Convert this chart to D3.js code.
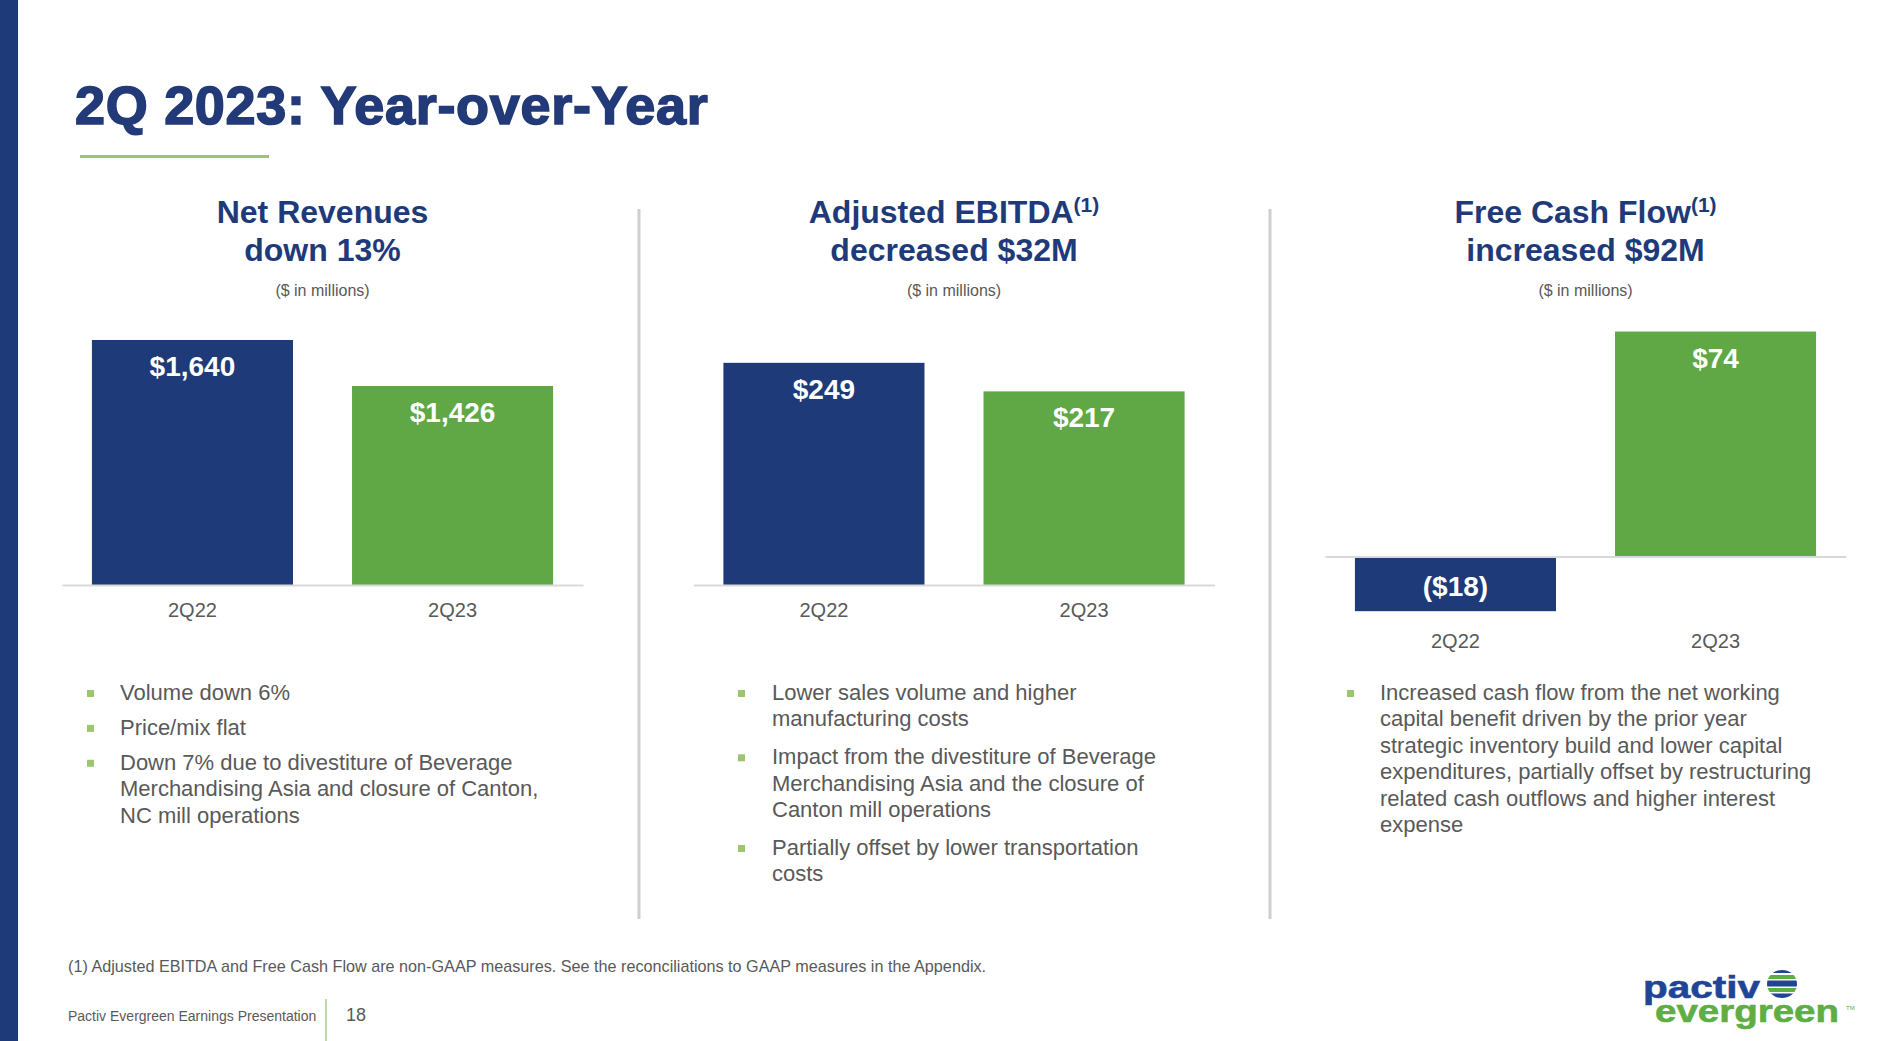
<!DOCTYPE html>
<html><head><meta charset="utf-8">
<script src="https://cdn.jsdelivr.net/npm/d3@7"></script>
<style>
html,body{margin:0;padding:0;background:#fff;}
svg{display:block;font-family:"Liberation Sans",Arial,Helvetica,sans-serif;}
</style>
</head><body>
<script>
// ---------- DATA ----------
const slideTitle = "2Q 2023: Year-over-Year";
const categories = ["2Q22", "2Q23"];
const netRevenues = [1640, 1426];
const adjustedEbitda = [249, 217];
const freeCashFlow = [-18, 74];
const panelTitleLines = [
  ["Net Revenues", "down 13%"],
  ["Adjusted EBITDA", "decreased $32M"],
  ["Free Cash Flow", "increased $92M"]
];
const panelTitleNotes = ["", "(1)", "(1)"];
const unitNote = "($ in millions)";
const bulletsNetRevenues = [
  ["Volume down 6%"],
  ["Price/mix flat"],
  ["Down 7% due to divestiture of Beverage", "Merchandising Asia and closure of Canton,", "NC mill operations"]
];
const bulletsEbitda = [
  ["Lower sales volume and higher", "manufacturing costs"],
  ["Impact from the divestiture of Beverage", "Merchandising Asia and the closure of", "Canton mill operations"],
  ["Partially offset by lower transportation", "costs"]
];
const bulletsCashFlow = [
  ["Increased cash flow from the net working", "capital benefit driven by the prior year",
   "strategic inventory build and lower capital", "expenditures, partially offset by restructuring",
   "related cash outflows and higher interest", "expense"]
];
const footnote = "(1) Adjusted EBITDA and Free Cash Flow are non-GAAP measures. See the reconciliations to GAAP measures in the Appendix.";
const footerLabel = "Pactiv Evergreen Earnings Presentation";
const pageNumber = "18";

// ---------- STYLE / LAYOUT ----------
const W = 1877, H = 1041;
const NAVY = "#1e3a78", GREEN = "#5fa845", LIGHTGREEN = "#9cc56f", GRAY = "#595959";
const barColors = [NAVY, GREEN];
const panels = [
  {values: netRevenues, center: 322.5, domain: [500, 1733], range: [585, 320], labelOff: 32, bullets: bulletsNetRevenues, markX: 87, textX: 120, gap: 8.5},
  {values: adjustedEbitda, center: 954, domain: [0, 297], range: [585, 320], labelOff: 32, bullets: bulletsEbitda, markX: 738, textX: 772, gap: 11.5},
  {values: freeCashFlow, center: 1585.5, domain: [-20.9, 77.8], range: [620, 320], labelOff: 37, bullets: bulletsCashFlow, markX: 1347, textX: 1380, gap: 10}
];
const fmt = v => v < 0 ? "($" + d3.format(",")(-v) + ")" : "$" + d3.format(",")(v);

const svg = d3.select("body").append("svg").attr("width", W).attr("height", H);
svg.append("rect").attr("width", W).attr("height", H).attr("fill", "#fff");

// left navy band
svg.append("rect").attr("x", 0).attr("y", 0).attr("width", 18).attr("height", H).attr("fill", NAVY);

// slide title
svg.append("text").attr("x", 75).attr("y", 124).attr("font-size", 54).attr("font-weight", 700)
  .attr("letter-spacing", 0.7)
  .attr("fill", "#233a79").attr("stroke", "#233a79").attr("stroke-width", 1.6)
  .text(slideTitle);
svg.append("rect").attr("x", 80).attr("y", 155).attr("width", 189).attr("height", 3).attr("fill", LIGHTGREEN);

// dividers
[639, 1270].forEach(x => svg.append("line").attr("x1", x).attr("x2", x).attr("y1", 209).attr("y2", 919)
  .attr("stroke", "#cfcfcf").attr("stroke-width", 3));

panels.forEach((p, i) => {
  const g = svg.append("g");
  // titles
  const t1 = g.append("text").attr("x", p.center).attr("y", 223).attr("text-anchor", "middle")
    .attr("font-size", 32).attr("font-weight", 700).attr("fill", NAVY);
  t1.append("tspan").text(panelTitleLines[i][0]);
  if (panelTitleNotes[i]) t1.append("tspan").attr("font-size", 21).attr("dy", -11).text(panelTitleNotes[i]);
  g.append("text").attr("x", p.center).attr("y", 261).attr("text-anchor", "middle")
    .attr("font-size", 32).attr("font-weight", 700).attr("fill", NAVY).text(panelTitleLines[i][1]);
  g.append("text").attr("x", p.center).attr("y", 296).attr("text-anchor", "middle")
    .attr("font-size", 16).attr("fill", GRAY).text(unitNote);

  // scales
  const x = d3.scaleBand().domain(categories).range([p.center - 260.5, p.center + 260.5])
    .paddingInner(0.227).paddingOuter(0.115);
  const y = d3.scaleLinear().domain(p.domain).range(p.range);
  const base = y(Math.max(0, p.domain[0]));
  const data = categories.map((c, j) => ({c, v: p.values[j], color: barColors[j]}));

  g.selectAll("rect.bar").data(data).join("rect").attr("class", "bar")
    .attr("x", d => x(d.c)).attr("width", x.bandwidth())
    .attr("y", d => Math.min(y(d.v), base)).attr("height", d => Math.abs(y(d.v) - base))
    .attr("fill", d => d.color);

  // axis
  const lowest = d3.max(data, d => Math.max(y(d.v), base));
  const axis = d3.axisBottom(x).tickSize(0).tickPadding(lowest - base + p.labelOff - 14.2);
  const ag = g.append("g").attr("transform", `translate(0,${base})`).call(axis);
  ag.select(".domain").attr("stroke", "#d9d9d9").attr("stroke-width", 2);
  ag.selectAll("text").attr("font-size", 20).attr("fill", GRAY).attr("font-family", "Liberation Sans, Arial, sans-serif");

  // value labels
  g.selectAll("text.val").data(data).join("text").attr("class", "val")
    .attr("x", d => x(d.c) + x.bandwidth() / 2)
    .attr("y", d => d.v >= 0 ? y(d.v) + 36 : y(d.v) - 15)
    .attr("text-anchor", "middle").attr("font-size", 28).attr("font-weight", 700).attr("fill", "#fff")
    .text(d => fmt(d.v));

  // bullets
  let yy = 700;
  p.bullets.forEach(lines => {
    g.append("rect").attr("x", p.markX).attr("y", yy - 10).attr("width", 7).attr("height", 7).attr("fill", LIGHTGREEN);
    lines.forEach((ln, k) => {
      g.append("text").attr("x", p.textX).attr("y", yy + k * 26.4).attr("font-size", 22).attr("fill", GRAY).text(ln);
    });
    yy += lines.length * 26.4 + p.gap;
  });
});

// footnote & footer
svg.append("text").attr("x", 68).attr("y", 972).attr("font-size", 16.2).attr("fill", GRAY).text(footnote);
svg.append("text").attr("x", 68).attr("y", 1021).attr("font-size", 14).attr("fill", GRAY).text(footerLabel);
svg.append("line").attr("x1", 326).attr("x2", 326).attr("y1", 999).attr("y2", H).attr("stroke", "#a9d18e").attr("stroke-width", 1.5);
svg.append("text").attr("x", 346).attr("y", 1021).attr("font-size", 18).attr("fill", GRAY).text(pageNumber);

// logo
const logo = svg.append("g");
logo.append("text").attr("x", 1643).attr("y", 998).attr("font-size", 32).attr("font-weight", 700)
  .attr("fill", "#1f4596").attr("stroke", "#1f4596").attr("stroke-width", 0.6)
  .attr("textLength", 117).attr("lengthAdjust", "spacingAndGlyphs").text("pactiv");
logo.append("text").attr("x", 1655).attr("y", 1022).attr("font-size", 32).attr("font-weight", 700)
  .attr("fill", "#5fad45").attr("stroke", "#5fad45").attr("stroke-width", 0.6)
  .attr("textLength", 184).attr("lengthAdjust", "spacingAndGlyphs").text("evergreen");
logo.append("text").attr("x", 1846).attr("y", 1010).attr("font-size", 6).attr("fill", "#5fad45").text("TM");
const gc = {cx: 1782, cy: 984, rx: 15, ry: 14};
const defs = svg.append("defs");
defs.append("clipPath").attr("id", "globe").append("ellipse")
  .attr("cx", gc.cx).attr("cy", gc.cy).attr("rx", gc.rx).attr("ry", gc.ry);
const stripes = [[-14, 3, "#1f4596"], [-9, 4, "#5fad45"], [-3.5, 6, "#1f4596"], [4, 4, "#5fad45"], [9.5, 4.5, "#1f4596"]];
logo.append("g").attr("clip-path", "url(#globe)").selectAll("rect").data(stripes).join("rect")
  .attr("x", gc.cx - gc.rx).attr("width", gc.rx * 2)
  .attr("y", d => gc.cy + d[0]).attr("height", d => d[1]).attr("fill", d => d[2]);
</script>
</body></html>
